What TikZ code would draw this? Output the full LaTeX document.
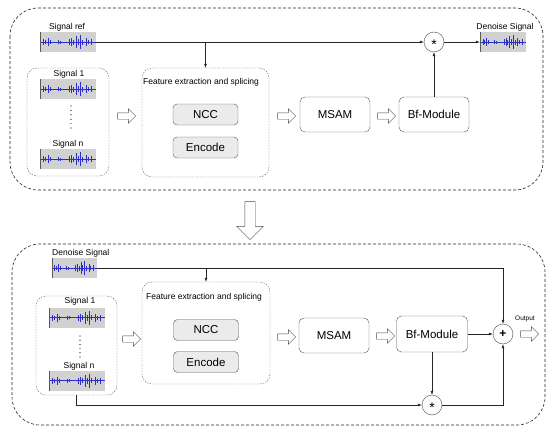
\documentclass[tikz,border=0pt]{standalone}
\usepackage{fontspec}
\setmainfont{Liberation Sans}
\usetikzlibrary{calc,shapes.arrows,arrows.meta}
\definecolor{wavec}{RGB}{45,45,200}
\newcommand{\opstar}{\smash{\raisebox{-7.8pt}{*}}}
\begin{document}
\begin{tikzpicture}[x=1pt,y=-1pt]

    \tikzset{
      panel/.style={
        draw=black!85,
        line width=0.6pt,
        dash pattern=on 3pt off 2pt,
        rounded corners=28pt,
      },
      group/.style={
        draw=black!60,
        dash pattern=on 1.5pt off 1.2pt,
        rounded corners=10pt,
        inner sep=0pt,
      },
      module/.style={
        draw=black!65,
        fill=white,
        rounded corners=5pt,
        minimum width=70pt,
        minimum height=35pt,
        font=\fontsize{11.5}{13}\selectfont,
      },
      subbox/.style={
        draw=black!65,
        fill=black!8,
        rounded corners=4pt,
        minimum width=65pt,
        minimum height=21pt,
        font=\fontsize{11.5}{13}\selectfont,
      },
      lbl/.style={
        inner sep=0pt,
        font=\fontsize{8.5}{10}\selectfont,
      },
      hollow/.style={
        single arrow,
        draw=black!70,
        fill=white,
        minimum height=18pt,
        minimum width=14pt,
        single arrow head extend=4pt,
        inner sep=3pt,
      },
      opslot/.style={
        circle,
        draw=black!70,
        fill=white,
        minimum size=20pt,
        inner sep=0pt,
        font=\fontsize{14}{15}\selectfont,
      },
      conn/.style={
        draw=black!85,
        line width=0.6pt,
        -{Latex[length=4pt,width=3pt]},
      },
      wave/.style={
        draw=wavec,
        line width=0.5pt,
      },
      sigthumb/.style={
        fill=black!18,
        minimum width=#1,
        minimum height=20pt,
        inner sep=0pt,
        path picture={
          \coordinate (pw) at (path picture bounding box.west);
          \coordinate (pe) at (path picture bounding box.east);
          \draw[wave] (pw) -- (pe);
          \foreach \f/\h in {0.06/3,0.10/2,0.14/4,0.18/2,0.32/2,0.36/1.5,0.52/3,0.56/4,0.60/2.5,0.64/6,0.68/3,0.72/7,0.76/2.5,0.82/4,0.86/2,0.92/3}
            \draw[wave] ($(pw)!\f!(pe)+(0,\h)$) -- ($(pw)!\f!(pe)-(0,\h)$);
          \draw[black!65, line width=1.2pt] (path picture bounding box.north west) -- (path picture bounding box.south west);
        },
      },
      sigthumb/.default=56pt,
    }
    \useasboundingbox (0,0) rectangle (550,431);

    % upper stage
    \draw[panel] (10,8) rectangle (543,190);
    \node[sigthumb] (sref) at (68,42) {};
    \node[lbl] (lsref) at (67,27) {Signal ref};
    \node[sigthumb=46pt] (dsig1) at (503,42) {};
    \node[lbl] (ldsig1) at (505,27) {Denoise Signal};

    \node[group, minimum width=82pt, minimum height=108pt] (grp1) at (68,122) {};
    \node[lbl] (ls1a) at (69,74) {Signal 1};
    \node[sigthumb] (sig1a) at (68,89) {};
    \foreach \k in {0,...,5} \fill (71,106+\k*4.4) circle (0.6);
    \node[lbl] (ls1n) at (68,144) {Signal n};
    \node[sigthumb] (sig1n) at (68,159) {};

    \node[hollow] (ha1) at (125,116) {};
    \node[group, minimum width=127pt, minimum height=109pt] (feat1) at (205.5,122.5) {};
    \node[lbl, anchor=west] (tfeat1) at (143,82) {Feature extraction and splicing};
    \node[subbox] (ncc1) at (205.5,114.5) {NCC};
    \node[subbox] (enc1) at (205.5,147.5) {Encode};

    \node[hollow] (ha2) at (285,116) {};
    \node[module] (msam1) at (335,114.5) {MSAM};
    \node[hollow] (ha3) at (385,116) {};
    \node[module] (bf1) at (434,114.5) {Bf-Module};
    \node[opslot] (star1) at (434,42) {\opstar};

    \draw[conn] (sref.east) -- (star1.west);
    \draw[conn] (feat1.north |- sref.east) -- (feat1.north);
    \draw[conn] (bf1.north) -- (star1.south);
    \draw[conn] (star1.east) -- (dsig1.west);

    % stage change
    \node[single arrow, draw=black!70, fill=white, shape border rotate=270, minimum height=38pt, minimum width=26pt, single arrow head extend=8pt, inner sep=5pt] (bigarr) at (250,218) {};

    % lower stage
    \draw[panel] (12,244) rectangle (545,425);
    \node[sigthumb=45pt] (dsig2) at (74.5,268) {};
    \node[lbl, anchor=west] (ldsig2) at (52,253) {Denoise Signal};

    \node[group, minimum width=81pt, minimum height=99pt] (grp2) at (76.5,345.5) {};
    \node[lbl] (ls2a) at (80,301) {Signal 1};
    \node[sigthumb] (sig2a) at (77,317.5) {};
    \foreach \k in {0,...,5} \fill (80,336+\k*4.2) circle (0.6);
    \node[lbl] (ls2n) at (79,366) {Signal n};
    \node[sigthumb] (sig2n) at (77,380.5) {};

    \node[hollow] (ha4) at (130,339) {};
    \node[group, minimum width=128pt, minimum height=102pt] (feat2) at (206,333) {};
    \node[lbl, anchor=west] (tfeat2) at (146,297) {Feature extraction and splicing};
    \node[subbox] (ncc2) at (206,330) {NCC};
    \node[subbox] (enc2) at (206,362) {Encode};

    \node[hollow] (ha5) at (285,337) {};
    \node[module] (msam2) at (334,335.5) {MSAM};
    \node[hollow] (ha6) at (384,336) {};
    \node[module, minimum width=71pt, minimum height=36pt] (bf2) at (432,334) {Bf-Module};
    \node[opslot, font=\bfseries\fontsize{12}{13}\selectfont] (plus) at (503,334) {+};
    \node[opslot] (star2) at (432,405) {\opstar};
    \node[lbl, font=\fontsize{6.5}{8}\selectfont] (lout) at (525,319) {Output};
    \node[hollow] (ha7) at (528,334) {};

    \draw[conn] (dsig2.east) -| (plus.north);
    \draw[conn] (feat2.north |- dsig2.east) -- (feat2.north);
    \draw[conn] (bf2.east) -- (plus.west);
    \draw[conn] (bf2.south) -- (star2.north);
    \draw[conn] (grp2.south) |- (star2.west);
    \draw[conn] (star2.east) -| (plus.south);

\end{tikzpicture}
\end{document}
